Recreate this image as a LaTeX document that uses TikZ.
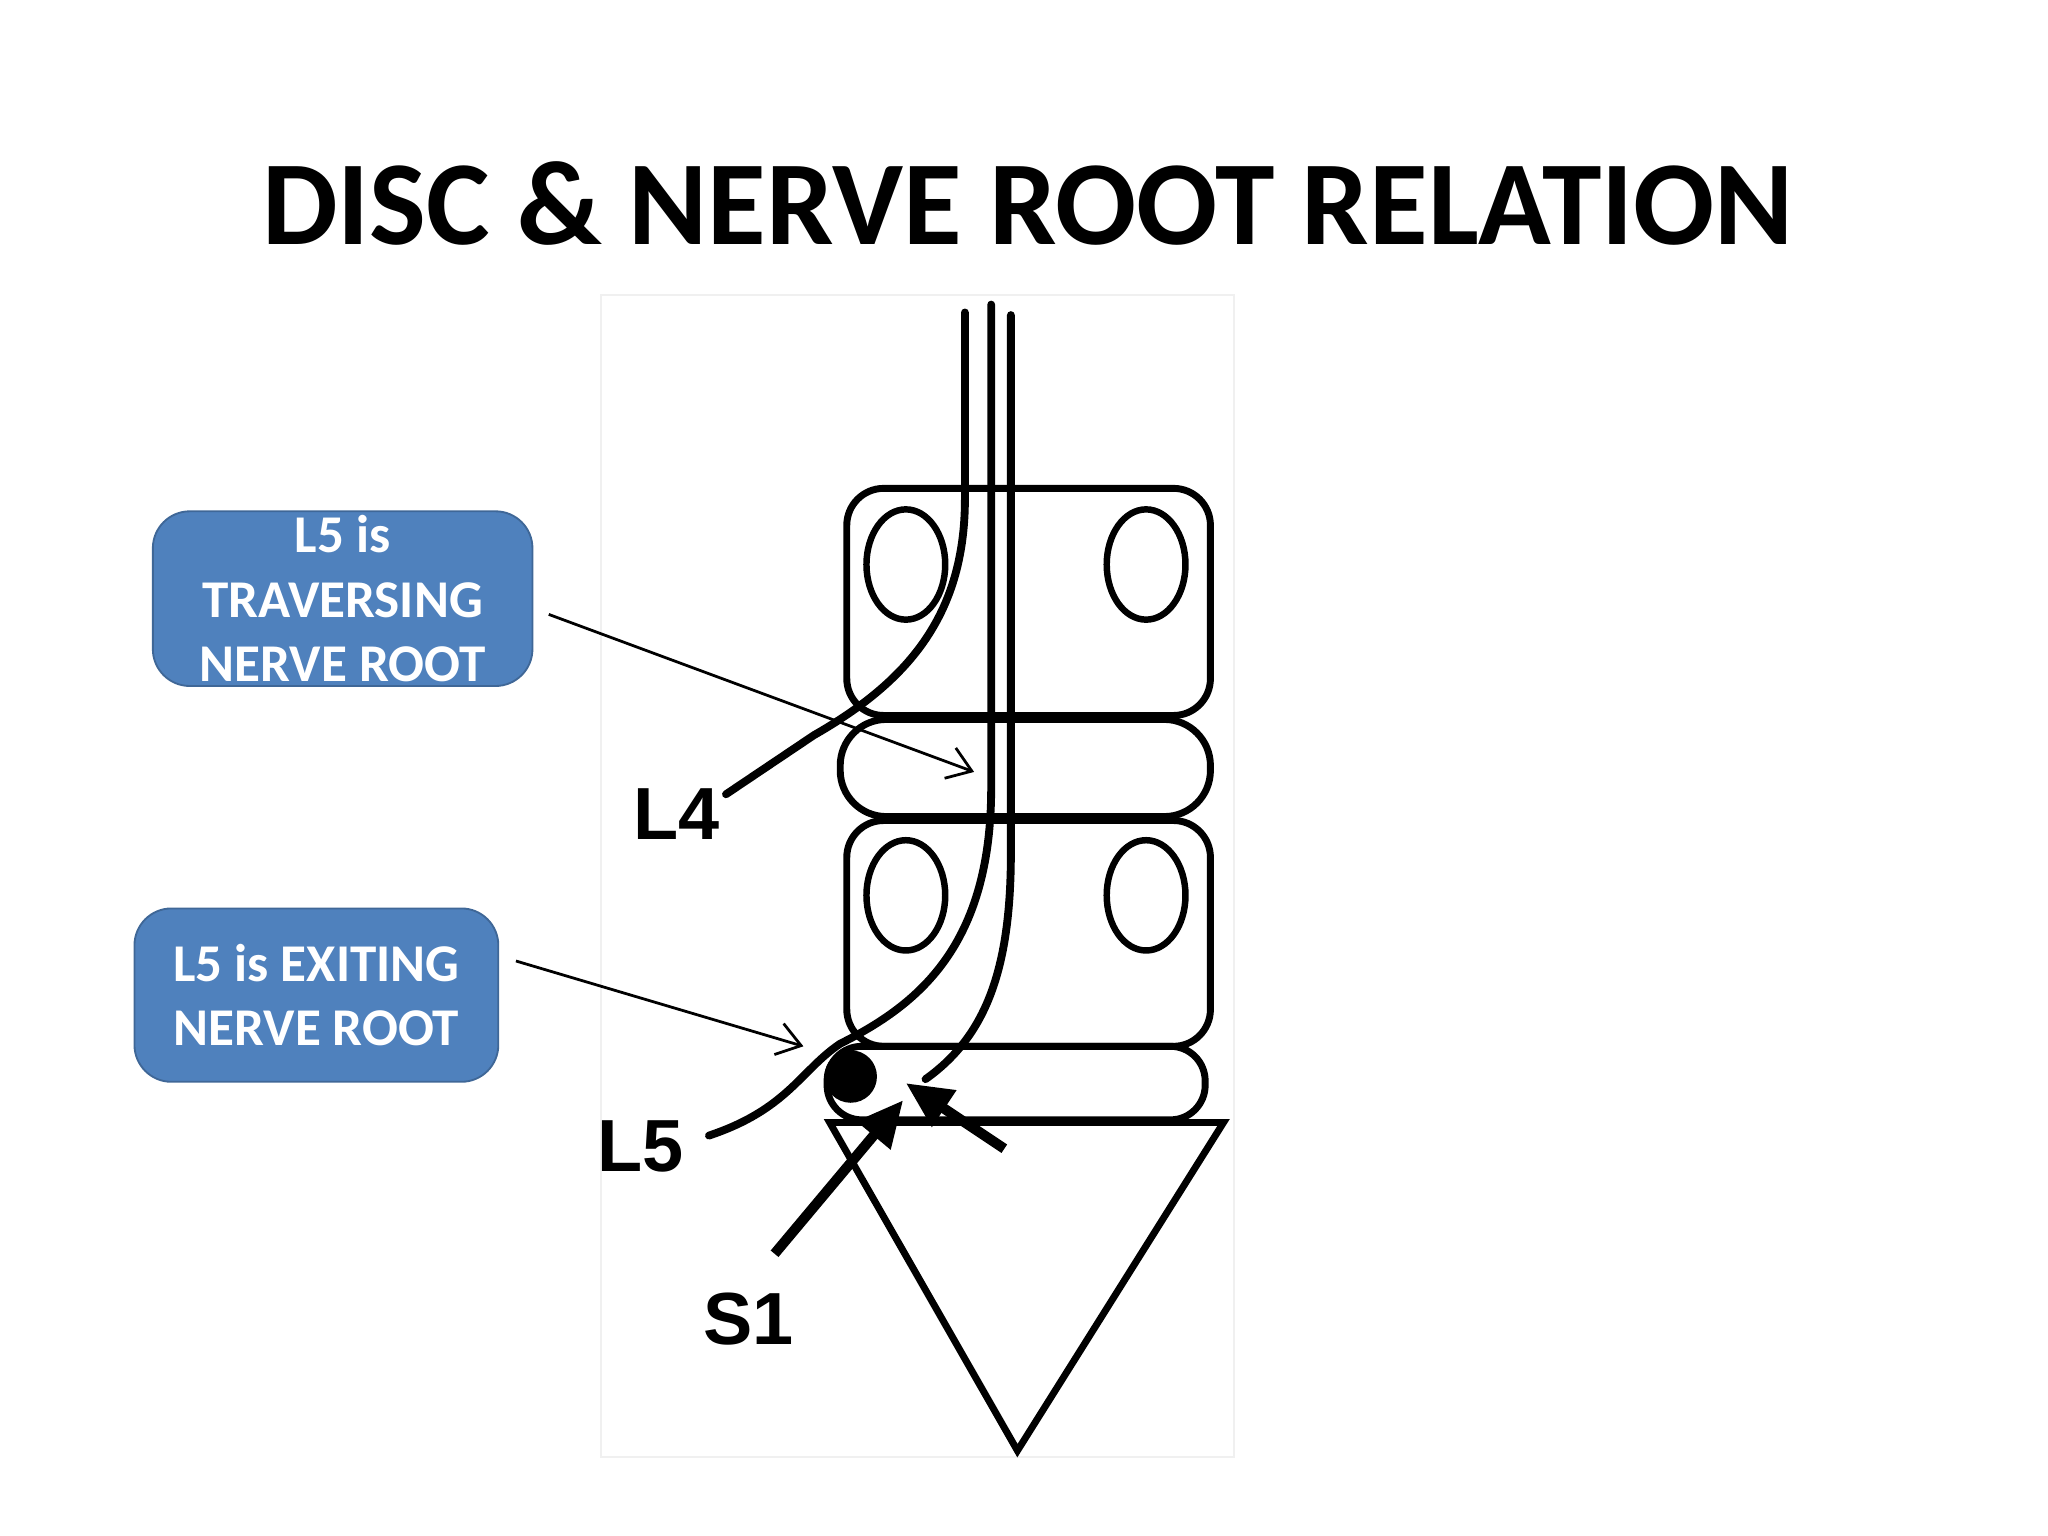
\documentclass[tikz,border=0pt]{standalone}
\usepackage{fontspec}
\setmainfont{Carlito}
\newfontfamily\arialfont{Liberation Sans}
\usetikzlibrary{arrows.meta,positioning}
\definecolor{boxblue}{HTML}{4F81BD}
\begin{document}
\begin{tikzpicture}[x=0.01cm,y=-0.01cm,
      bone/.style={draw=black, line width=1.5pt, rounded corners=8pt},
      hole/.style={draw=black, line width=1.4pt},
      nerve/.style={draw=black, line width=1.7pt, line cap=round},
      infobox/.style={rectangle, rounded corners=8pt, fill=boxblue, draw=boxblue!80!black,
         text=white, align=center, font=\fontsize{11.5}{14}\selectfont\bfseries,
         inner sep=0pt},
      level/.style={font=\arialfont\fontsize{16}{18}\selectfont\bfseries},
      pointer/.style={-{Straight Barb[length=5pt,width=7pt]}, line width=0.6pt},
      bigarrow/.style={-{Triangle[length=10pt,width=9pt]}, line width=2.2pt}
      ]
\useasboundingbox (0,0) rectangle (1560,1170);
% title
\node[font=\fontsize{26}{30}\selectfont\bfseries] (title) at (783,155) {DISC \& NERVE ROOT RELATION};
% faint frame
\draw[black!6] (458,225) rectangle (940,1110);
% vertebrae and discs
\draw[bone] (645,372) rectangle (922,545);
\draw[hole] (690,430) ellipse (30 and 42);
\draw[hole] (873,430) ellipse (30 and 42);
\draw[bone, rounded corners=10pt] (640,548) rectangle (922,622);
\draw[bone] (645,625) rectangle (922,797);
\draw[hole] (690,682) ellipse (30 and 42);
\draw[hole] (873,682) ellipse (30 and 42);
\draw[bone, rounded corners=7.5pt] (630,797) rectangle (918,853);
% sacrum
\draw[line width=1.5pt] (632,855) -- (932,855) -- (775,1105) -- cycle;
% nerve roots
\coordinate (l4end) at (553,605);
\coordinate (l5end) at (540,865);
\draw[nerve] (735,238) -- (735,380) .. controls (735,470) and (690,520) .. (620,560) -- (l4end);
\draw[nerve] (755,232) -- (755,600) .. controls (755,720) and (700,765) .. (640,795)
   .. controls (610,815) and (600,845) .. (l5end);
\draw[nerve] (770,240) -- (770,650) .. controls (770,740) and (750,790) .. (705,822);
\fill (648,820) circle (20);
% labels
\node[level] (l4) at (515,620) {L4};
\node[level] (l5) at (488,873) {L5};
\node[level] (s1) at (570,1005) {S1};
\coordinate (s1tail) at (590,955);
\coordinate (s1head) at (688,838);
\coordinate (disctail) at (765,875);
\coordinate (dischead) at (690,825);
\draw[bigarrow] (s1tail) -- (s1head);
\draw[bigarrow] (disctail) -- (dischead);
% info boxes
\node[infobox, minimum width=2.89cm, minimum height=1.33cm] (trav) at (261,456) {L5 is\\TRAVERSING\\NERVE ROOT};
\node[infobox, minimum width=2.77cm, minimum height=1.32cm] (exit) at (241,758) {L5 is EXITING\\NERVE ROOT};
\coordinate (travtip) at (742,588);
\coordinate (exittip) at (612,797);
\draw[pointer] (418,468) -- (travtip);
\draw[pointer] (393,732) -- (exittip);
\end{tikzpicture}
\end{document}
